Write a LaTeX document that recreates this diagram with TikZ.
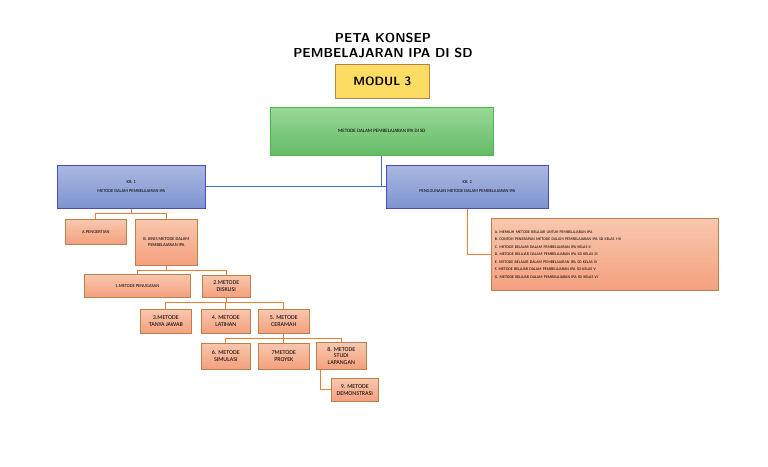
\documentclass[tikz,border=0pt]{standalone}
\usepackage{fontspec}
\setmainfont{Carlito}
\begin{document}
\begin{tikzpicture}[x=1pt,y=-1pt,
 bx/.style={draw=#1!60!black!70,anchor=north west,inner sep=1pt,align=center,line width=0.6pt},
 sal/.style={bx=orange,top color=salmonA,bottom color=salmonB,font=\fontsize{4.5}{5.5}\selectfont},
 blu/.style={bx=blue,top color=blueA,bottom color=blueB,font=\fontsize{4.5}{6}\selectfont},
 con/.style={draw=conO,line width=0.8pt},
 bcon/.style={draw=conB,line width=0.8pt}]
\definecolor{salmonA}{HTML}{F9C7AE}\definecolor{salmonB}{HTML}{F4A07E}
\definecolor{blueA}{HTML}{AAB8E0}\definecolor{blueB}{HTML}{7E93D0}
\definecolor{conO}{HTML}{EC7D31}\definecolor{conB}{HTML}{4472C4}
\useasboundingbox[fill=white] (0,0) rectangle (768,466);
\node[font=\sffamily\bfseries\fontsize{13}{15}\selectfont,align=center] (title) at (383,45) {PETA KONSEP\\PEMBELAJARAN IPA DI SD};
\node[bx=orange,fill=yellow!60!orange!60,minimum width=94,minimum height=34,font=\sffamily\bfseries\fontsize{12}{14}\selectfont] (mod) at (335,64) {MODUL 3};
\node[bx=green,top color=green!30!white!85!black,bottom color=green!55!black!60,minimum width=223,minimum height=48,font=\fontsize{5}{6}\selectfont] (met) at (270,107) {METODE DALAM PEMBELAJARAN IPA DI SD};
\node[blu,minimum width=148,minimum height=43] (kb1) at (57,165) {KB. 1\\[3pt]METODE DALAM PEMBELAJARAN IPA};
\node[blu,minimum width=162,minimum height=43] (kb2) at (386,165) {KB. 2\\[3pt]PENGGUNAAN METODE DALAM PEMBELAJARAN IPA};
\node[sal,minimum width=227,minimum height=72,align=left,font=\fontsize{4}{7.5}\selectfont,text width=220] (lst) at (491,218) {A. MEMILIH METODE BELAJAR UNTUK PEMBELAJARAN IPA\\B. CONTOH PENERAPAN METODE DALAM PEMBELAJARAN IPA SD KELAS I-VI\\C. METODE BELAJAR DALAM PEMBELAJARAN IPA KELAS II\\D. METODE BELAJAR DALAM PEMBELAJARAN IPA SD KELAS III\\E. METODE BELAJAR DALAM PEMBELAJARAN IPA SD KELAS IV\\F. METODE BELAJAR DALAM PEMBELAJARAN IPA SD KELAS V\\G. METODE BELAJAR DALAM PEMBELAJARAN IPA SD KELAS VI};
\node[sal,minimum width=61,minimum height=25] (a) at (65,219) {A.PENGERTIAN};
\node[sal,minimum width=62,minimum height=46] (b) at (135,219) {B. JENIS METODE DALAM\\PEMBELAJARAN IPA};
\node[sal,minimum width=106,minimum height=23] (m1) at (84,274) {1.METODE PENUGASAN};
\node[sal,minimum width=48,minimum height=22,font=\fontsize{6}{7}\selectfont] (m2) at (202,275) {2.METODE\\DISKUSI};
\node[sal,minimum width=51,minimum height=24,font=\fontsize{6}{7}\selectfont] (m3) at (140,309) {3.METODE\\TANYA JAWAB};
\node[sal,minimum width=49,minimum height=24,font=\fontsize{6}{7}\selectfont] (m4) at (201,309) {4. METODE\\LATIHAN};
\node[sal,minimum width=51,minimum height=24,font=\fontsize{6}{7}\selectfont] (m5) at (258,309) {5. METODE\\CERAMAH};
\node[sal,minimum width=49,minimum height=26,font=\fontsize{6}{7}\selectfont] (m6) at (201,343) {6. METODE\\SIMULASI};
\node[sal,minimum width=51,minimum height=26,font=\fontsize{6}{7}\selectfont] (m7) at (258,343) {7METODE\\PROYEK};
\node[sal,minimum width=50,minimum height=27,font=\fontsize{6}{6.5}\selectfont] (m8) at (316,342) {8. METODE\\STUDI\\LAPANGAN};
\node[sal,minimum width=47,minimum height=23,font=\fontsize{6}{7}\selectfont] (m9) at (331,378) {9. METODE\\DEMONSTRASI};
% connectors
\draw[bcon] (kb1.east) -- (kb2.west);
\draw[bcon] (met.south) -- (met.south |- kb1.east);
\draw[con] (kb2.south) -- (kb2.south |- lst.west) -- (lst.west);
\draw[con] (kb1.south) -- ++(0,5) coordinate (j1);
\draw[con] (a.north) |- (j1) -| (b.north);
\draw[con] (b.south) -- ++(0,5) coordinate (j2);
\draw[con] (m1.north) |- (j2) -| (m2.north);
\draw[con] (m2.south) -- ++(0,5) coordinate (j3);
\draw[con] (m3.north) |- (j3) -| (m5.north);
\draw[con] (m4.north) -- (m4.north |- j3);
\draw[con] (m5.south) -- ++(0,5) coordinate (j4);
\draw[con] (m6.north) |- (j4) -| (m8.north);
\draw[con] (m7.north) -- (m7.north |- j4);
\draw[con] ([xshift=4pt]m8.south west) |- (m9.west);
\end{tikzpicture}
\end{document}
